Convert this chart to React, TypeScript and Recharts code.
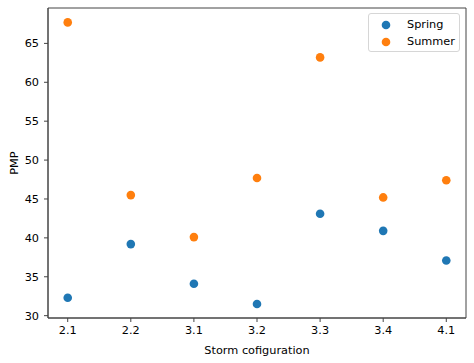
import React from 'react';
import { ScatterChart, Scatter, XAxis, YAxis, ReferenceArea, Legend } from 'recharts';

const categories = ['2.1', '2.2', '3.1', '3.2', '3.3', '3.4', '4.1'];
const springValues = [32.3, 39.2, 34.1, 31.5, 43.1, 40.9, 37.1];
const summerValues = [67.7, 45.5, 40.1, 47.7, 63.2, 45.2, 47.4];
const yTicks = [30, 35, 40, 45, 50, 55, 60, 65];
const seriesNames = ['Spring', 'Summer'];
const seriesColors = ['#1f77b4', '#ff7f0e'];

const springData = categories.map((c, i) => ({ x: i, y: springValues[i], cat: c }));
const summerData = categories.map((c, i) => ({ x: i, y: summerValues[i], cat: c }));

const X_DOMAIN: [number, number] = [-0.3125, 6.3125];
const Y_DOMAIN: [number, number] = [29.7, 69.55];
const FONT = 'DejaVu Sans, sans-serif';
const AXIS_COLOR = '#444';
const FS = 11.3;

const Dot = (props: any) => {
  const { cx, cy, fill } = props;
  return <circle cx={cx} cy={cy} r={4.3} fill={fill} />;
};

const LegendBox = () => (
  <div
    style={{
      position: 'absolute',
      left: 368,
      top: 13,
      width: 92,
      height: 39,
      boxSizing: 'border-box',
      border: '1px solid #d6d6d6',
      borderRadius: 3,
      background: 'rgba(255,255,255,0.8)',
      fontFamily: FONT,
      fontSize: FS,
      color: '#000',
    }}
  >
    {seriesNames.map((n, i) => (
      <div key={n} style={{ position: 'absolute', left: 0, top: 4 + i * 17, height: 14, width: 90 }}>
        <svg width={10} height={10} style={{ position: 'absolute', left: 12, top: 2 }}>
          <circle cx={5} cy={5} r={4.3} fill={seriesColors[i]} />
        </svg>
        <span style={{ position: 'absolute', left: 38, top: 0, lineHeight: '14px' }}>{n}</span>
      </div>
    ))}
  </div>
);

export default function App() {
  return (
    <div style={{ position: 'absolute', left: 0, top: 0, width: 474, height: 363, background: '#fff' }}>
      <ScatterChart width={474} height={363} margin={{ top: 8, right: 8, left: 0, bottom: 0 }}>
        <XAxis
          type="number"
          dataKey="x"
          domain={X_DOMAIN}
          ticks={[0, 1, 2, 3, 4, 5, 6]}
          tickFormatter={(v: number) => categories[v]}
          allowDataOverflow
          height={45}
          tickSize={4}
          tickMargin={4}
          interval={0}
          axisLine={{ stroke: AXIS_COLOR }}
          tickLine={{ stroke: AXIS_COLOR }}
          tick={{ fill: '#000', fontSize: FS, fontFamily: FONT }}
          label={{ value: 'Storm cofiguration', position: 'insideBottom', offset: 9, fill: '#000', fontSize: FS, fontFamily: FONT }}
        />
        <YAxis
          type="number"
          dataKey="y"
          domain={Y_DOMAIN}
          ticks={yTicks}
          allowDataOverflow
          width={48}
          tickSize={4}
          tickMargin={5}
          interval={0}
          axisLine={{ stroke: AXIS_COLOR }}
          tickLine={{ stroke: AXIS_COLOR }}
          tick={{ fill: '#000', fontSize: FS, fontFamily: FONT }}
          label={{ value: 'PMP', angle: -90, position: 'center', dx: -10, fill: '#000', fontSize: FS, fontFamily: FONT }}
        />
        <ReferenceArea
          x1={X_DOMAIN[0]}
          x2={X_DOMAIN[1]}
          y1={Y_DOMAIN[0]}
          y2={Y_DOMAIN[1]}
          fill="none"
          stroke={AXIS_COLOR}
          strokeWidth={1}
        />
        <Scatter name={seriesNames[0]} data={springData} fill={seriesColors[0]} shape={<Dot />} isAnimationActive={false} />
        <Scatter name={seriesNames[1]} data={summerData} fill={seriesColors[1]} shape={<Dot />} isAnimationActive={false} />
        <Legend content={() => null} />
      </ScatterChart>
      <LegendBox />
    </div>
  );
}
